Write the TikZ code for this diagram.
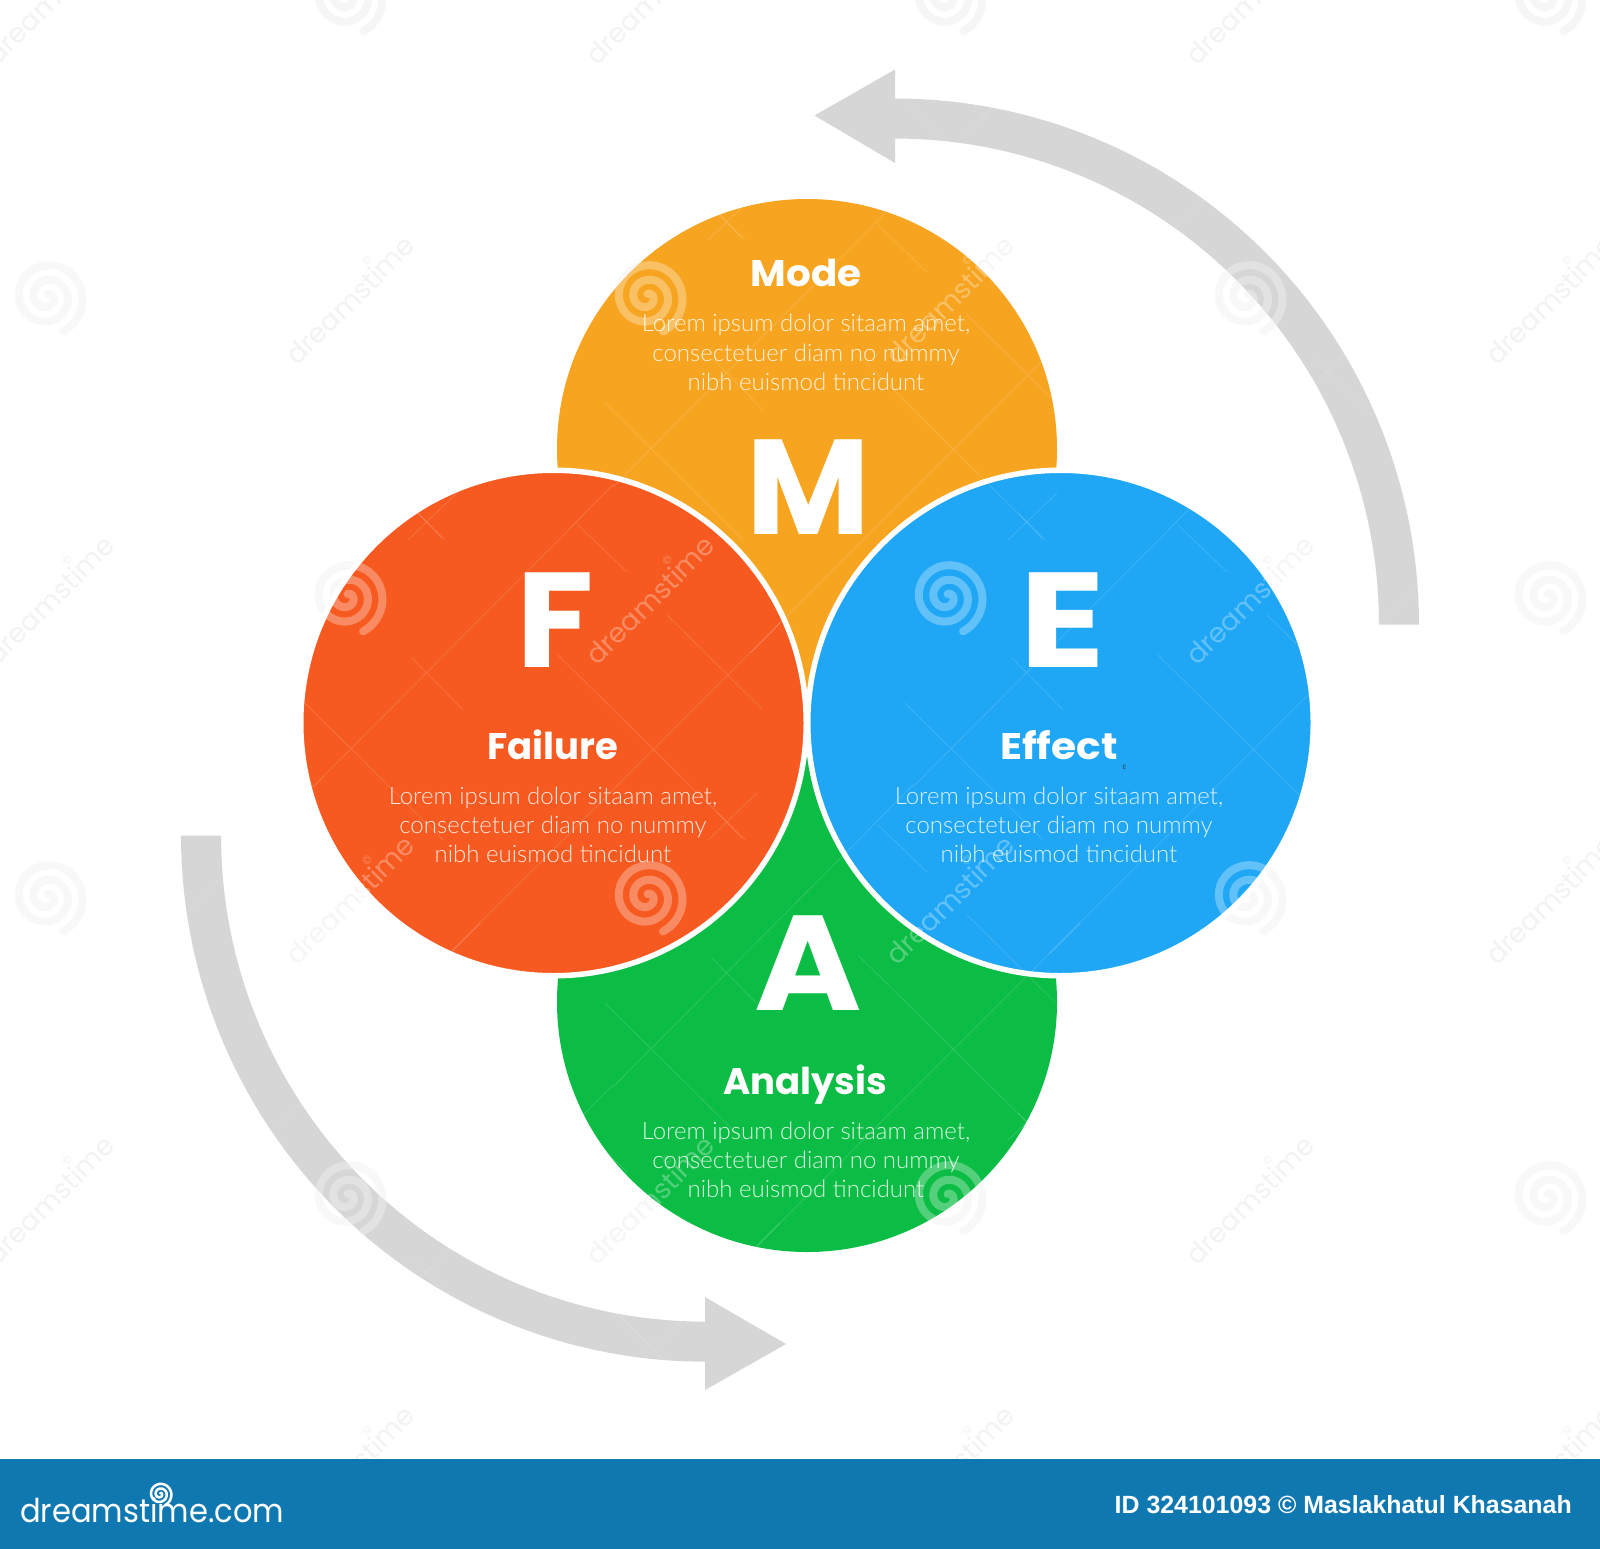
\documentclass[tikz,border=0pt]{standalone}
\usepackage{fontspec}
\usepackage{graphicx}
\setmainfont{Lato}
\newfontfamily\titlef{Poppins}[UprightFont=* Bold]
\newfontfamily\bodyf{Lato Light}
\newfontfamily\idf{Liberation Sans}[UprightFont=* Bold]
\newfontfamily\wmf{Poppins}
\definecolor{cmode}{HTML}{F7A521}
\definecolor{cfail}{HTML}{F65A20}
\definecolor{ceff}{HTML}{1FA7F5}
\definecolor{cana}{HTML}{0BBD45}
\definecolor{cgray}{HTML}{D6D6D6}
\definecolor{cband}{HTML}{0F78B0}
\definecolor{wmgray}{HTML}{8A8A8A}
\tikzset{
  petal/.style={circle,inner sep=0pt,minimum size=500pt,fill=#1},
  ringed/.style={circle,inner sep=0pt,minimum size=505.5pt,fill=#1,draw=white,line width=5.5pt},
  bigl/.style={text=white,anchor=base,font=\titlef\fontsize{135}{135}\selectfont},
  ttl/.style={text=white,anchor=base,font=\titlef\fontsize{37}{37}\selectfont},
  bodytxt/.style={text=white,text opacity=.85,anchor=base,font=\bodyf\fontsize{24}{29.3}\selectfont},
  flow/.style={fill=cgray,draw=none},
  wmline/.style={draw=white,draw opacity=.14,line width=.8pt},
}
\newcommand{\spiralat}[5]{% x y scale colour opacity
  \draw[#4,opacity=#5,line width=#3*8pt,line cap=round] plot[smooth,domain=0:865,samples=70]
    ({#1-3*#3+#3*(3+\x*0.0405)*cos(\x-800)},{#2-3*#3+#3*(3+\x*0.0405)*sin(\x-800)});}
\newcommand{\wmtext}[4]{% x y colour opacity
  \node[rotate=45,text=#3,text opacity=#4,font=\wmf\fontsize{27.4}{27.4}\selectfont] (wm#1x#2#3) at (#1,#2) {dreamstime};
  \node[text=#3,text opacity=#4,font=\wmf\fontsize{12}{12}\selectfont] (cp#1x#2#3) at (#1+17,#2-40) {©};}
\begin{document}
\begin{tikzpicture}[x=1pt,y=-1pt]
\useasboundingbox (0,0) rectangle (1600,1549);
\fill[white] (0,0) rectangle (1600,1549);
\foreach \a/\b in {50/300,650/300,1250/300,350/600,950/600,1550/600,50/900,650/900,1250/900,350/1200,950/1200,1550/1200,350/0,950/0,1550/0}{\spiralat{\a}{\b}{1}{wmgray}{0.07}}
\foreach \a/\b in {350/300,950/300,1550/300,50/600,1250/600,350/900,1550/900,50/1200,650/1200,1250/1200,50/0,650/0,1250/0,350/1470,950/1470,1550/1470}{\wmtext{\a}{\b}{wmgray}{0.10}}
% arrows
\fill[flow] plot[domain=0:90,samples=60] ({895+524*cos(\x)},{624.5-526*sin(\x)})
  -- (895,69.5) -- (814.5,115.5) -- (895,163)
  -- plot[domain=90:0,samples=60] ({895+484*cos(\x)},{624.5-486*sin(\x)}) -- cycle;
\fill[flow] plot[domain=180:270,samples=60] ({705+524*cos(\x)},{835.7-526*sin(\x)})
  -- (705,1390) -- (786,1344) -- (705,1297)
  -- plot[domain=270:180,samples=60] ({705+484*cos(\x)},{835.7-486*sin(\x)}) -- cycle;
% circles
\node[petal=cmode] (cM) at (807,449) {};
\node[petal=cana] (cA) at (807,1002) {};
\node[ringed=cfail] (cF) at (553.5,723) {};
\node[ringed=ceff] (cE) at (1060.5,723) {};
% faint watermark lines
\foreach \j in {-2,...,2}{\foreach \i in {-2,...,2}{
  \pgfmathsetmacro{\dx}{600*\i+300*\j}\pgfmathsetmacro{\dy}{300*\j}
  \begin{scope}[xshift=\dx pt,yshift=-\dy pt]
    \draw[wmline] (313,787)--(613,485) (450,953)--(780,623) (408,540)--(457,493)
      (412,658)--(463,710) (558,655)--(745,840) (578,525)--(627,572)
      (667,615)--(763,710) (305,703)--(443,840) (418,513)--(442,538);
  \end{scope}}}
\foreach \a/\b in {50/300,650/300,1250/300,350/600,950/600,1550/600,50/900,650/900,1250/900,350/1200,950/1200,1550/1200}{\spiralat{\a}{\b}{1}{white}{0.3}}
\foreach \a/\b in {950/300,650/600,1250/600,350/900,950/900,650/1200}{\wmtext{\a}{\b}{white}{0.3}}
% letters
\node[bigl] (lM) at (808,534) {M};
\node[bigl] (lF) at (555.5,667) {\scalebox{1.05}[1]{F}};
\node[bigl] (lE) at (1063,667) {\scalebox{1.18}[1]{E}};
\node[bigl] (lA) at (808,1010) {\scalebox{1.08}[1]{A}};
% titles
\node[ttl] (tM) at (806,286) {\scalebox{1.05}[1]{Mode}};
\node[ttl] (tF) at (553,759) {Failure};
\node[ttl] (tE) at (1059,759) {\scalebox{1.1}[1]{Ef{}fect}};
\node[ttl] (tA) at (805,1094) {Analysis};
% body
\foreach \n/\cx/\by in {M/806/331.7,F/553/804,E/1059/804,A/806/1139}{
  \node[bodytxt] (b\n1) at (\cx,\by) {Lorem ipsum dolor sitaam amet,};
  \node[bodytxt] (b\n2) at (\cx,\by+29.3) {consectetuer diam no nummy};
  \node[bodytxt] (b\n3) at (\cx,\by+58.6) {nibh euismod tincidunt};
}
\node[text=black!80,font=\fontsize{6}{6}\selectfont] (tiny) at (1124.5,767) {E};
% band
\fill[cband] (0,1459) rectangle (1600,1549);
\node[text=white,anchor=base west,inner sep=0pt] (logo) at (20,1522) {\resizebox{264pt}{25pt}{\wmf dreamstime.com}};
\spiralat{161}{1495}{0.32}{white}{1}
\node[text=white,anchor=base east,inner sep=0pt,font=\idf\fontsize{24.9}{24.9}\selectfont] (credit) at (1572,1513) {ID 324101093 © Maslakhatul Khasanah};
\end{tikzpicture}
\end{document}
